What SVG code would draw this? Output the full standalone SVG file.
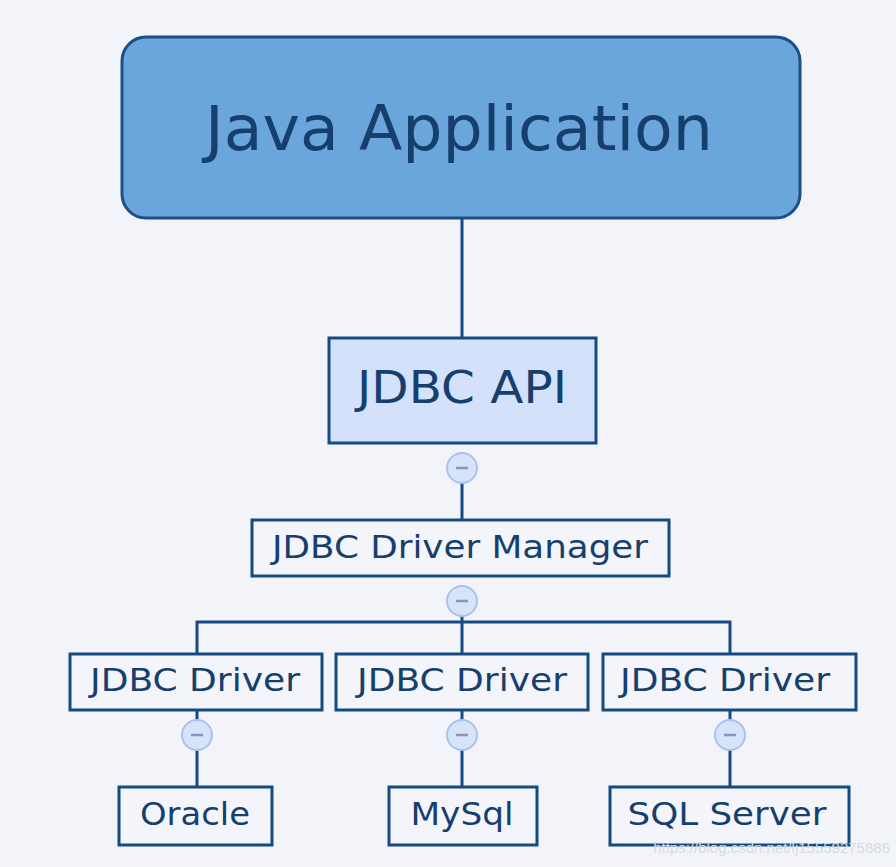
<svg xmlns="http://www.w3.org/2000/svg" width="896" height="867" viewBox="0 0 896 867">
<style>
.box{fill:#f3f5fb;stroke:#154a82;stroke-width:3}
.t{font-family:"DejaVu Sans",sans-serif;fill:#163f6e;text-anchor:middle}
.s{font-size:32px}
.c{fill:none;stroke:#154a82;stroke-width:3}
.col{fill:#d7e3f8;stroke:#a9c2ec;stroke-width:2}
.m{stroke:#8a95b5;stroke-width:2.5}
</style>
<rect width="896" height="867" fill="#f3f4f9"/>
<g id="connectors">
<path class="c" d="M462 218V338M462 483V520M462 586V654M197 654V622H730V654M197 710V787M462 710V787M730 710V787"/>
</g>
<g id="java"><rect x="122" y="37" width="678" height="181" rx="24" fill="#6aa6dc" stroke="#1b4f86" stroke-width="3"/><text class="t" x="459" y="150" font-size="62" textLength="508" lengthAdjust="spacingAndGlyphs">Java Application</text></g>
<g id="api"><rect x="329" y="338" width="267" height="105" fill="#d4e1fb" stroke="#154a82" stroke-width="3"/><text class="t" x="462" y="403" font-size="44" textLength="210" lengthAdjust="spacingAndGlyphs">JDBC API</text></g>
<g id="c1"><circle class="col" cx="462" cy="468" r="15"/><line class="m" x1="456" y1="468" x2="468" y2="468"/></g>
<g id="mgr"><rect class="box" x="252" y="520" width="417" height="56"/><text class="t s" x="460" y="558" textLength="376" lengthAdjust="spacingAndGlyphs">JDBC Driver Manager</text></g>
<g id="c2"><circle class="col" cx="462" cy="601" r="15"/><line class="m" x1="456" y1="601" x2="468" y2="601"/></g>
<g id="d1"><rect class="box" x="70" y="654" width="252" height="56"/><text class="t s" x="195" y="691" textLength="210" lengthAdjust="spacingAndGlyphs">JDBC Driver</text></g>
<g id="d2"><rect class="box" x="336" y="654" width="252" height="56"/><text class="t s" x="462" y="691" textLength="210" lengthAdjust="spacingAndGlyphs">JDBC Driver</text></g>
<g id="d3"><rect class="box" x="603" y="654" width="253" height="56"/><text class="t s" x="725" y="691" textLength="210" lengthAdjust="spacingAndGlyphs">JDBC Driver</text></g>
<g id="c3"><circle class="col" cx="197" cy="735" r="15"/><line class="m" x1="191" y1="735" x2="203" y2="735"/></g>
<g id="c4"><circle class="col" cx="462" cy="735" r="15"/><line class="m" x1="456" y1="735" x2="468" y2="735"/></g>
<g id="c5"><circle class="col" cx="730" cy="735" r="15"/><line class="m" x1="724" y1="735" x2="736" y2="735"/></g>
<g id="oracle"><rect class="box" x="119" y="787" width="153" height="58"/><text class="t s" x="195" y="825" textLength="110" lengthAdjust="spacingAndGlyphs">Oracle</text></g>
<g id="mysql"><rect class="box" x="389" y="787" width="148" height="58"/><text class="t s" x="462" y="825" textLength="103" lengthAdjust="spacingAndGlyphs">MySql</text></g>
<g id="sqlserver"><rect class="box" x="610" y="787" width="239" height="58"/><text class="t s" x="727" y="825" textLength="199" lengthAdjust="spacingAndGlyphs">SQL Server</text></g>
<text x="890" y="853" font-family="'Liberation Sans',sans-serif" font-size="15" fill="#d8dbe3" text-anchor="end">https://blog.csdn.net/lj15559275886</text>
</svg>
